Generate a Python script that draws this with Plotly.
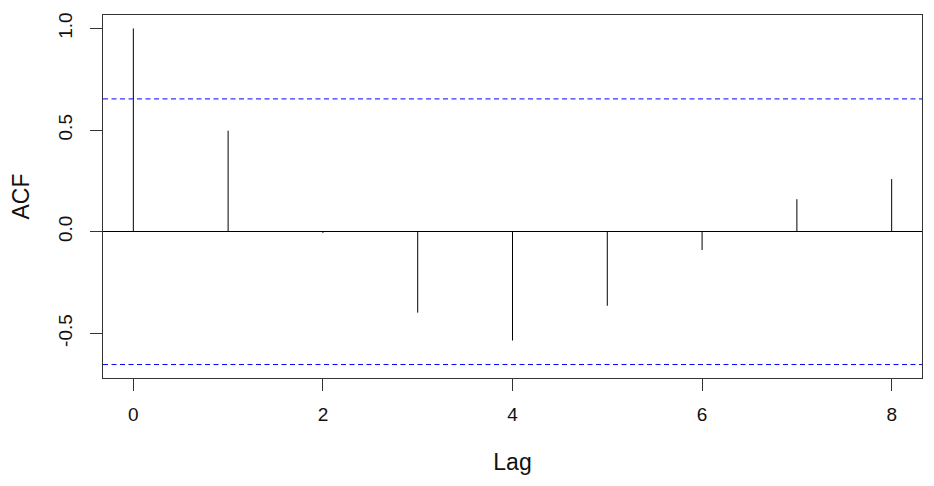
import plotly.graph_objects as go

# ACF values
lags = [0, 1, 2, 3, 4, 5, 6, 7, 8]
acf_vals = [1.0, 0.497, -0.006, -0.398, -0.535, -0.364, -0.09, 0.16, 0.259]
n_obs = 9
clim = 1.96 / n_obs ** 0.5

x_ticks = [0, 2, 4, 6, 8]
y_ticks = [-0.5, 0.0, 0.5, 1.0]
y_tick_text = ["-0.5", "0.0", "0.5", "1.0"]

# R-style 4% axis extension
ylo = min(min(acf_vals), -clim)
yhi = max(max(acf_vals), clim)
yext = (yhi - ylo) * 0.04
xext = (max(lags) - min(lags)) * 0.04

# spikes (type="h")
xs, ys = [], []
for lag, v in zip(lags, acf_vals):
    xs += [lag, lag, None]
    ys += [0, v, None]

fig = go.Figure()
fig.add_trace(go.Scatter(x=xs, y=ys, mode="lines",
                         line=dict(color="black", width=1),
                         hoverinfo="skip", showlegend=False))

# confidence bounds
for c in (clim, -clim):
    fig.add_shape(type="line", xref="paper", yref="y", x0=0, x1=1, y0=c, y1=c,
                  line=dict(color="#0000FF", width=1, dash="5px,3.5px"))

font = dict(family="Liberation Sans, Arial, sans-serif", size=19, color="#111")

# page body has an 8px margin, so the figure is a bit smaller than the window
fig.update_layout(
    width=918, height=470,
    margin=dict(l=95, r=4, t=7, b=100),
    plot_bgcolor="white", paper_bgcolor="white",
    font=font,
    showlegend=False,
)
fig.update_xaxes(
    range=[min(lags) - xext, max(lags) + xext],
    tickvals=x_ticks, ticks="outside", ticklen=12, tickcolor="#333",
    ticklabelstandoff=7,
    showgrid=False, zeroline=False,
    showline=True, mirror=True, linecolor="#333", linewidth=1,
    title=dict(text="Lag", standoff=30),
)
fig.update_yaxes(
    range=[ylo - yext, yhi + yext],
    tickvals=y_ticks, ticktext=y_tick_text, tickangle=-90,
    ticks="outside", ticklen=12, tickcolor="#333",
    ticklabelstandoff=10,
    showgrid=False, zeroline=True, zerolinecolor="black", zerolinewidth=1,
    showline=True, mirror=True, linecolor="#333", linewidth=1,
    title=dict(text="ACF", standoff=22),
)

fig.write_html("out.html")
